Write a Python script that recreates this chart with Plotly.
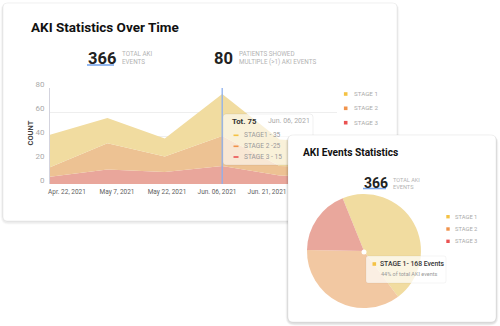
import pandas as pd
import plotly.graph_objects as go

W, H = 500, 326
FONT = "Roboto"

# ---- data ----
dates = ["2021-04-22", "2021-05-07", "2021-05-22", "2021-06-06", "2021-06-21", "2021-07-06"]
stage1 = [27, 21, 15, 35, 22, 20]
stage2 = [8, 22, 13, 25, 8, 9]
stage3 = [6, 12, 10, 15, 7, 5]
stage_names = ["STAGE 1", "STAGE 2", "STAGE 3"]

tick_dates = ["2021-04-22", "2021-05-07", "2021-05-22", "2021-06-06", "2021-06-21"]
tick_labels = ["Apr. 22, 2021", "May 7, 2021", "May 22, 2021", "Jun. 06, 2021", "Jun. 21, 2021"]
y_ticks = [0, 20, 40, 60, 80]

total_events = 366
multi_patients = 80
pie_values = [168, 130, 68]
focus_index = 3
tooltip_rows = ["STAGE1 - {}", "STAGE 2 -{}", "STAGE 3 - {}"]
pie_share_text = "44% of total AKI events"

# ---- styling ----
area_colors = ["#f1dca0", "#edc293", "#e9a69b"]
pie_colors = ["#f1dca0", "#f2c8a2", "#e9a79c"]
key_colors = ["#f4c244", "#f0934b", "#ea5252"]


def px(v):
    return v / W


def py(v):
    return 1 - v / H


def rrect(x0, y0, x1, y1, r, cx, cy):
    return (
        f"M{cx(x0 + r)},{cy(y0)} L{cx(x1 - r)},{cy(y0)} Q{cx(x1)},{cy(y0)} {cx(x1)},{cy(y0 + r)} "
        f"L{cx(x1)},{cy(y1 - r)} Q{cx(x1)},{cy(y1)} {cx(x1 - r)},{cy(y1)} "
        f"L{cx(x0 + r)},{cy(y1)} Q{cx(x0)},{cy(y1)} {cx(x0)},{cy(y1 - r)} "
        f"L{cx(x0)},{cy(y0 + r)} Q{cx(x0)},{cy(y0)} {cx(x0 + r)},{cy(y0)} Z"
    )


def ident(v):
    return v


def card(x0, y0, x1, y1, r, xref, yref, cx, cy, shadow_alpha):
    out = []
    for k in range(4, 0, -1):
        out.append(dict(type="path", xref=xref, yref=yref, layer="below",
                        path=rrect(x0 - k * 0.6, y0 - k * 0.3 + 1, x1 + k * 0.6, y1 + k * 0.7 + 1, r + k, cx, cy),
                        fillcolor=f"rgba(0,0,0,{shadow_alpha})", line=dict(width=0)))
    out.append(dict(type="path", xref=xref, yref=yref, layer="below",
                    path=rrect(x0, y0, x1, y1, r, cx, cy),
                    fillcolor="white", line=dict(color="rgba(0,0,0,0.07)", width=0.8)))
    return out


def txt(x, y, text, size, color, weight=400, anchor="left", align="left"):
    return dict(x=px(x), y=py(y), xref="paper", yref="paper", text=text, showarrow=False,
                xanchor=anchor, yanchor="middle", align=align, borderpad=0,
                font=dict(family=FONT, size=size, color=color, weight=weight))


def square(cx_, cy_, s, color):
    return dict(type="rect", xref="paper", yref="paper", layer="above",
                x0=px(cx_ - s / 2), x1=px(cx_ + s / 2), y0=py(cy_ + s / 2), y1=py(cy_ - s / 2),
                fillcolor=color, line=dict(width=0))


fig = go.Figure()

# stacked area: bottom layer first
for vals, name, color in zip([stage3, stage2, stage1], stage_names[::-1], area_colors[::-1]):
    fig.add_trace(go.Scatter(x=dates, y=vals, name=name, stackgroup="aki", mode="lines",
                             line=dict(width=0), fillcolor=color, hoverinfo="skip",
                             showlegend=False, xaxis="x", yaxis="y"))

# date-label subplot and page-space subplot (hosts the second card above the area chart)
fig.add_trace(go.Scatter(x=[], y=[], xaxis="x2", yaxis="y2", hoverinfo="skip", showlegend=False))
fig.add_trace(go.Scatter(x=[], y=[], xaxis="x3", yaxis="y3", hoverinfo="skip", showlegend=False))

# pie
fig.add_trace(go.Pie(values=pie_values, labels=stage_names, marker=dict(colors=pie_colors, line=dict(width=0)),
                     sort=False, direction="clockwise", rotation=338, textinfo="none",
                     hoverinfo="skip", showlegend=False,
                     domain=dict(x=[px(364 - 57), px(364 + 57)], y=[py(251 + 57), py(251 - 57)])))

# evenly spaced date labels under the plot
lab_px_per_day = 50 / 15
lab_start = pd.Timestamp(tick_dates[0]) - pd.Timedelta(days=17 / lab_px_per_day)
lab_end = lab_start + pd.Timedelta(days=287 / lab_px_per_day)

shapes = []
shapes += card(3, 3, 397, 221, 4, "paper", "paper", px, py, 0.018)

# hover box for the highlighted date (sits under the second card)
shapes.append(dict(type="path", xref="x3", yref="y3", layer="below",
                   path=rrect(223, 114, 313, 165, 3, ident, ident),
                   fillcolor="rgba(255,255,255,0.6)", line=dict(color="rgba(0,0,0,0.08)", width=0.8)))
shapes += card(288, 135, 496, 322, 5, "x3", "y3", ident, ident, 0.03)

# crosshair at the highlighted date
shapes.append(dict(type="line", xref="x", yref="y", layer="above",
                   x0=dates[focus_index], x1=dates[focus_index], y0=0, y1=80,
                   line=dict(color="#8db0ee", width=1.3)))

annotations = []

# ---- card 1 ----
annotations.append(txt(30, 27, "AKI Statistics Over Time", 13.5, "#111", 700))
annotations.append(txt(87, 58.5, str(total_events), 16.5, "#222", 700))
shapes.append(dict(type="line", xref="paper", yref="paper", layer="above",
                   x0=px(87), x1=px(114), y0=py(65), y1=py(65), line=dict(color="#7aa7ec", width=1.6)))
annotations.append(txt(121, 58.5, "TOTAL AKI<br>EVENTS", 6.3, "#b3b3b3"))
annotations.append(txt(213, 58.5, str(multi_patients), 16.5, "#222", 700))
annotations.append(txt(238, 58.5, "PATIENTS SHOWED<br>MULTIPLE (>1) AKI EVENTS", 6.3, "#b3b3b3"))
annotations.append(dict(x=px(23), y=py(133), xref="paper", yref="paper", text="COUNT", showarrow=False,
                        textangle=-90, font=dict(family=FONT, size=7.5, color="#444", weight=700)))

legend_y = [94, 108.3, 122.7]
for name, color, yy in zip(stage_names, key_colors, legend_y):
    shapes.append(square(345.7, yy, 3.6, color))
    annotations.append(txt(352.5, yy, name, 6.2, "#aaaaaa"))

# hover box content
i = focus_index
focus_vals = [stage1[i], stage2[i], stage3[i]]
annotations.append(txt(231, 121, f"Tot. {sum(focus_vals)}", 7.8, "#333", 700))
annotations.append(txt(311, 121, tick_labels[i], 7, "#aaaaaa", anchor="right"))
for fmt, v, color, yy in zip(tooltip_rows, focus_vals, key_colors, [135.3, 146.3, 157]):
    shapes.append(dict(type="line", xref="paper", yref="paper", layer="above",
                       x0=px(233.5), x1=px(238.5), y0=py(yy), y1=py(yy), line=dict(color=color, width=1.6)))
    annotations.append(txt(242.5, yy, fmt.format(v), 6.6, "#999999"))

# ---- card 2 ----
annotations.append(txt(302, 153, "AKI Events Statistics", 10.2, "#111", 700))
annotations.append(txt(363, 183, str(sum(pie_values)), 14, "#222", 700))
shapes.append(dict(type="line", xref="paper", yref="paper", layer="above",
                   x0=px(363), x1=px(386), y0=py(188.5), y1=py(188.5), line=dict(color="#7aa7ec", width=1.5)))
annotations.append(txt(392, 183, "TOTAL AKI<br>EVENTS", 5.6, "#b3b3b3"))

pie_legend_y = [216.7, 229, 241.3]
for name, color, yy in zip(stage_names, key_colors, pie_legend_y):
    shapes.append(square(448, yy, 3.4, color))
    annotations.append(txt(454, yy, name, 5.8, "#aaaaaa"))

# pie centre dot and hover box
shapes.append(dict(type="circle", xref="paper", yref="paper", layer="above",
                   x0=px(361.5), x1=px(366.5), y0=py(254.5), y1=py(249.5),
                   fillcolor="white", line=dict(width=0)))
shapes.append(dict(type="path", xref="paper", yref="paper", layer="above",
                   path=rrect(366, 256, 446, 283, 2, px, py),
                   fillcolor="rgba(255,255,255,0.7)", line=dict(color="rgba(0,0,0,0.06)", width=0.8)))
shapes.append(square(374.3, 264, 3.6, key_colors[0]))
annotations.append(txt(379, 264, f"{stage_names[0]}- {pie_values[0]} Events", 6.8, "#333", 500))
annotations.append(txt(379.5, 273.5, pie_share_text, 5.5, "#999999"))

plain = dict(showgrid=False, zeroline=False, showline=False, fixedrange=True, automargin=False)
y_dom = [py(184), py(88)]

fig.update_layout(
    width=W, height=H, autosize=False,
    margin=dict(l=0, r=0, t=0, b=0, pad=0, autoexpand=False),
    paper_bgcolor="white", plot_bgcolor="rgba(0,0,0,0)",
    hovermode=False, showlegend=False,
    shapes=shapes, annotations=annotations,
    xaxis=dict(domain=[px(50), px(337)], type="date", range=[dates[0], dates[-1]], anchor="y",
               showticklabels=False, **plain),
    yaxis=dict(domain=y_dom, range=[0, 80], anchor="x",
               tickmode="array", tickvals=y_ticks, ticks="",
               tickfont=dict(family=FONT, size=8, color="#aaaaaa"),
               showline=True, linecolor="#d3d3de", linewidth=1,
               showgrid=True, gridcolor="#eeeeee", gridwidth=1, zeroline=False,
               ticklabelshift=-4, ticklabelstandoff=3, fixedrange=True, automargin=False),
    xaxis2=dict(domain=[px(50), px(337)], anchor="y2", type="date",
                range=[lab_start.isoformat(), lab_end.isoformat()],
                tickmode="array", tickvals=tick_dates, ticktext=tick_labels,
                tickfont=dict(family=FONT, size=6.5, color="#5f5f5f"), ticks="",
                ticklabelstandoff=2, **plain),
    yaxis2=dict(domain=y_dom, range=[0, 80], anchor="x2", showticklabels=False, **plain),
    xaxis3=dict(domain=[0, 1], range=[0, W], anchor="y3", showticklabels=False, **plain),
    yaxis3=dict(domain=[0, 1], range=[H, 0], anchor="x3", showticklabels=False, **plain),
)

fig.write_html("out.html")
